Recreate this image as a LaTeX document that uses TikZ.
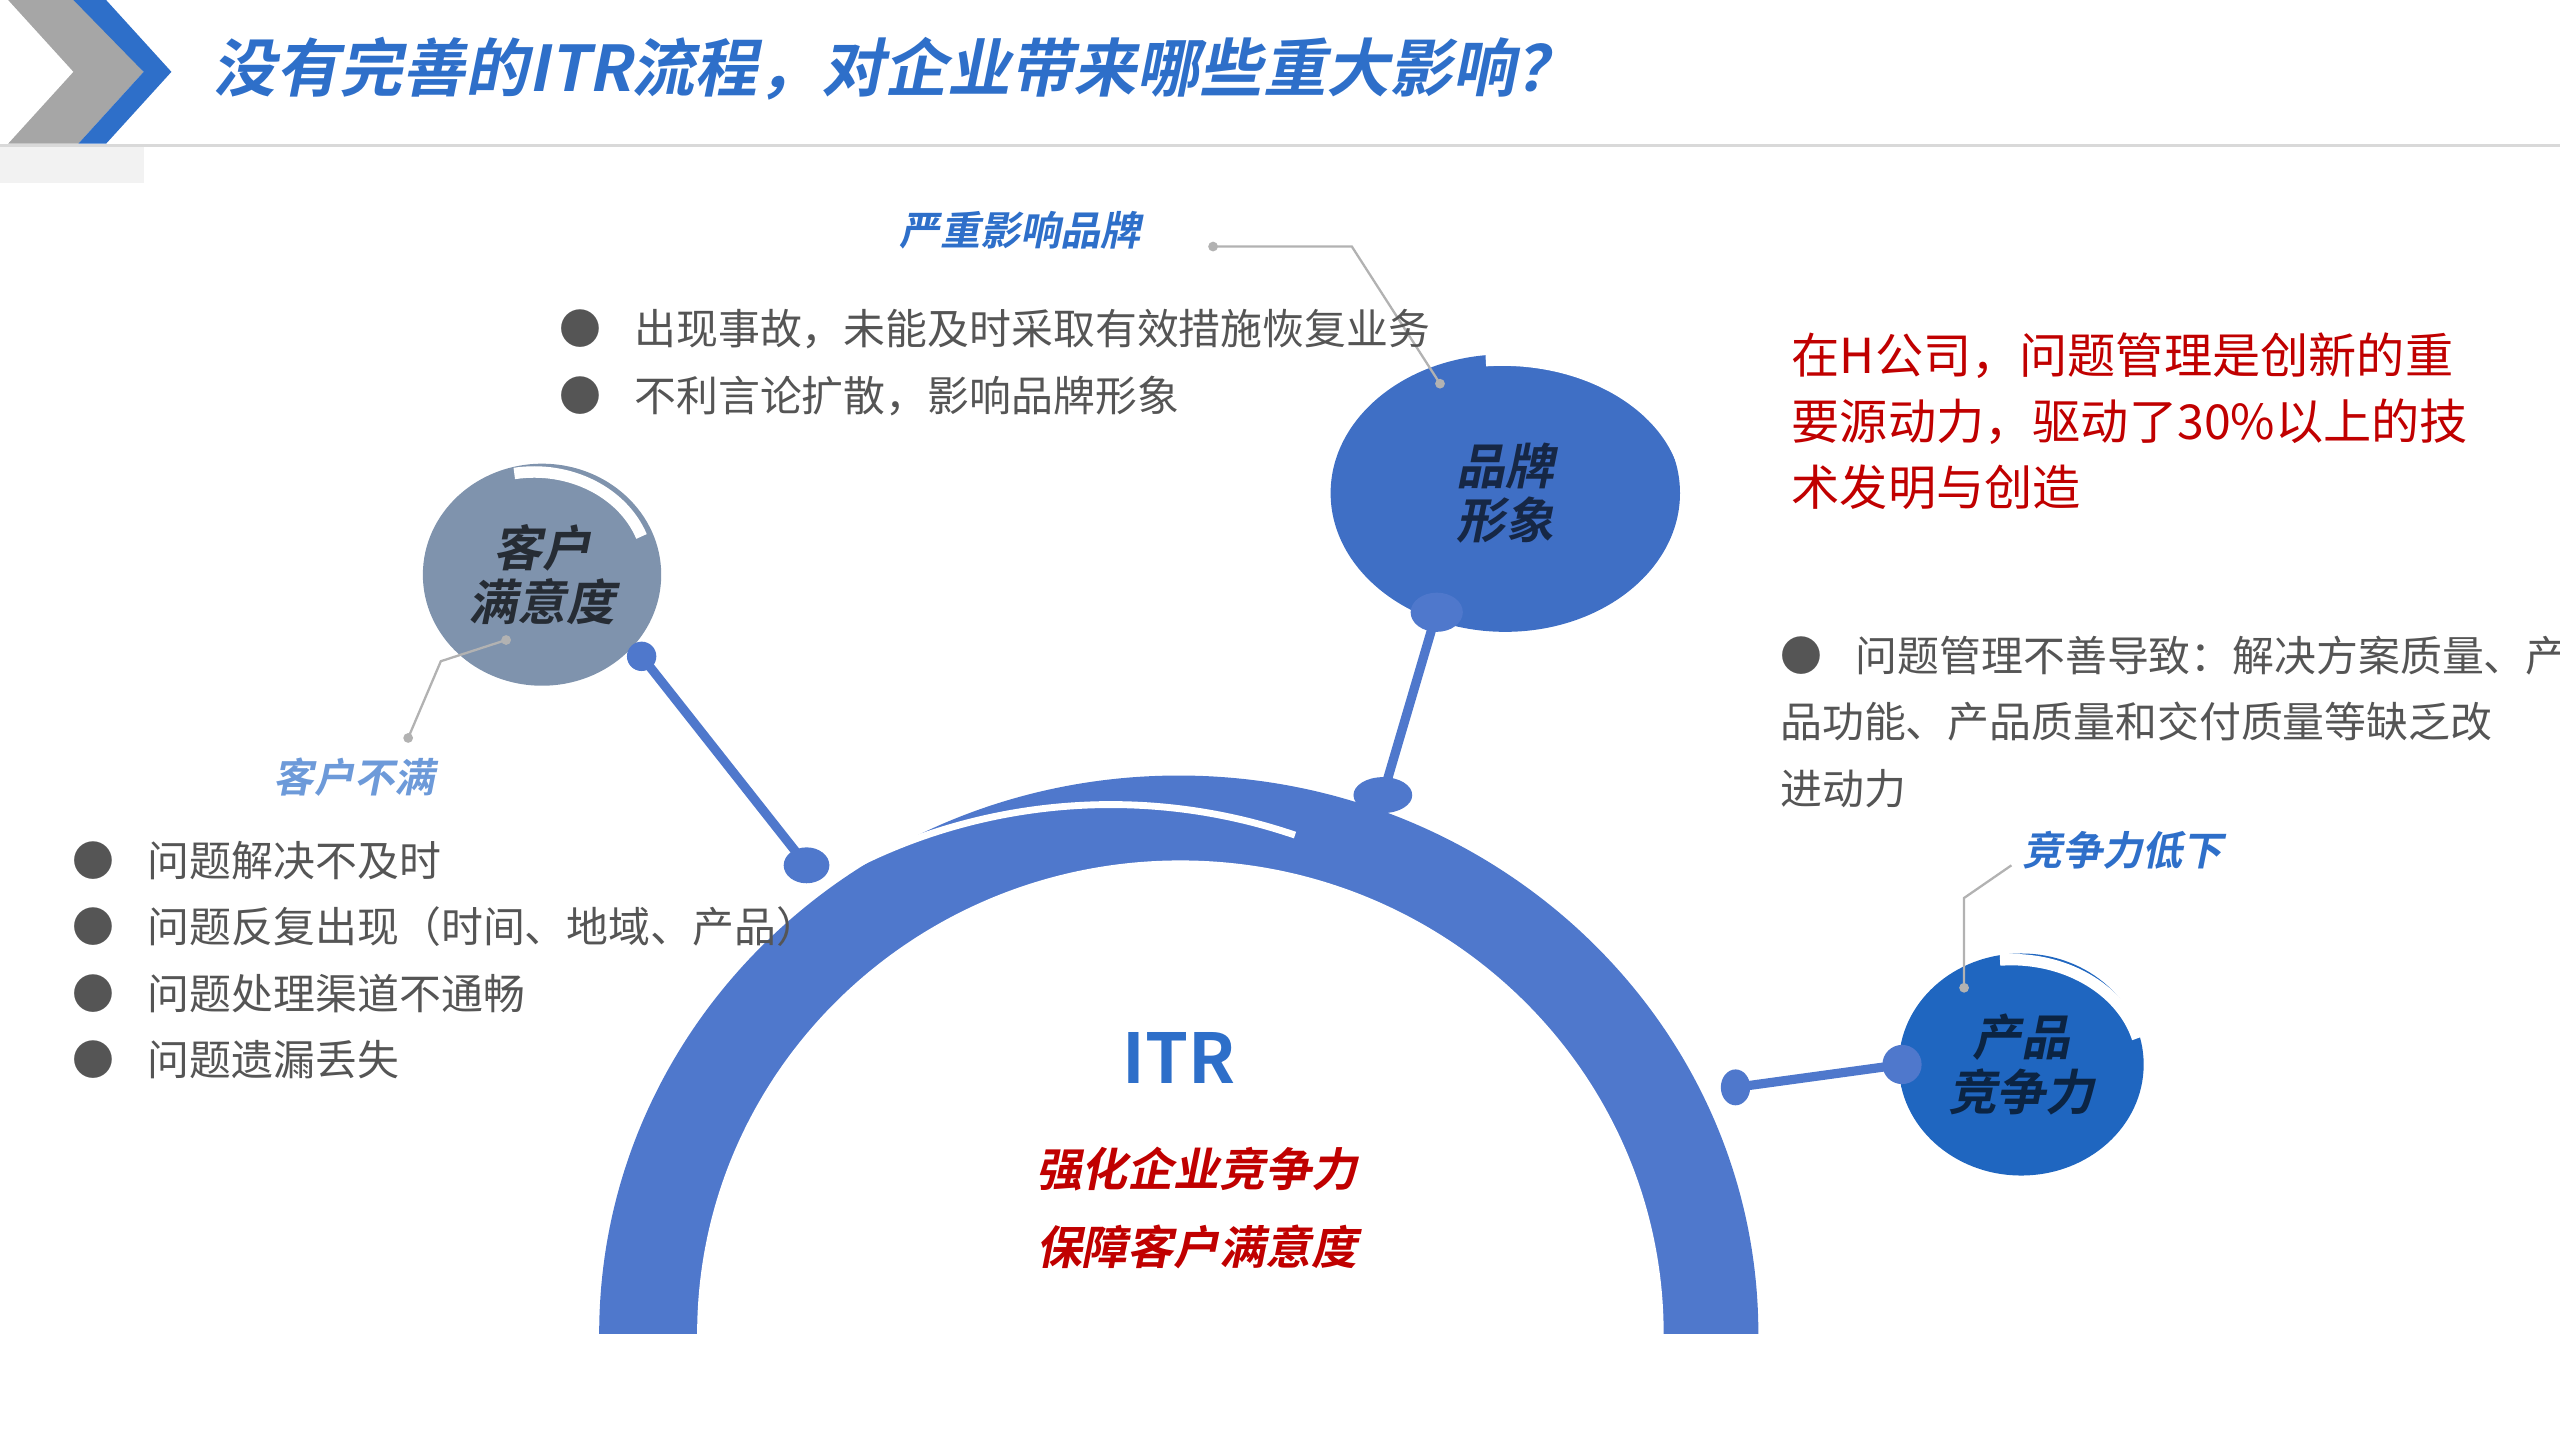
\documentclass[tikz,border=0pt]{standalone}
\usepackage{fontspec}
\setmainfont{Noto Sans CJK SC}
\newfontfamily\cjkb[FakeSlant=0.2]{Noto Sans CJK SC Bold}
\newfontfamily\cjkn{Noto Sans CJK SC Bold}
\definecolor{tblue}{HTML}{2E6FC9}
\definecolor{ringb}{HTML}{4F78CC}
\definecolor{grayb}{HTML}{7F93AD}
\definecolor{brandb}{HTML}{3F6FC5}
\definecolor{prodb}{HTML}{1F66C0}
\definecolor{txt}{HTML}{555555}
\definecolor{redt}{HTML}{C00000}
\begin{document}
\begin{tikzpicture}[x=0.1mm,y=-0.1mm,
  ttl/.style={font=\cjkb\fontsize{11}{13}\selectfont,text=tblue,anchor=west},
  lbl/.style={font=\cjkb\fontsize{7}{8}\selectfont,text=tblue,anchor=center},
  bub/.style={font=\cjkb\fontsize{8.5}{9.5}\selectfont,align=center},
  bul/.style={font=\fontsize{7.3}{11.6}\selectfont,text=txt,anchor=west,align=left},
  lead/.style={draw=gray!60,line width=0.4pt},
  conn/.style={draw=ringb,line width=1.6pt},
  dotc/.style={fill=ringb}]
\useasboundingbox (0,0) rectangle (1568,882);
% chevrons
\fill[gray!70] (5,0) -- (48,0) -- (88,44) -- (48,88) -- (5,88) -- (45,44) -- cycle;
\fill[tblue] (45,0) -- (65,0) -- (105,44) -- (65,88) -- (48,88) -- (88,44) -- cycle;
\fill[gray!10] (0,90) rectangle (88,112);
\node[ttl] (title) at (118,42) {没有完善的ITR流程，对企业带来哪些重大影响？};
\draw[gray!30,line width=0.5pt] (0,89) -- (1568,89);
% ring
\fill[ringb] (367,817) arc[start angle=180,end angle=360,x radius=355,y radius=342] -- cycle;
\fill[white] (427,817) arc[start angle=180,end angle=360,x radius=296,y radius=290] -- cycle;
\draw[white,line width=1.2pt] (410,625) arc[start angle=215,end angle=290,x radius=330,y radius=310];
% connectors
\coordinate (c1a) at (393,402); \coordinate (c1b) at (494,530);
\coordinate (c2a) at (880,375); \coordinate (c2b) at (847,487);
\coordinate (c3a) at (1165,652); \coordinate (c3b) at (1063,666);
\draw[conn] (c1a) -- (c1b); \draw[conn] (c2a) -- (c2b); \draw[conn] (c3a) -- (c3b);
\fill[dotc] (c1b) ellipse (14 and 11); \fill[dotc] (c2b) ellipse (18 and 11);
\fill[dotc] (c3b) ellipse (9 and 11);
% bubbles
\fill[grayb] (332,352) ellipse (73 and 68);
\draw[white,line width=2pt] (315,290) arc[start angle=-100,end angle=-20,x radius=70,y radius=60];
\node[bub,text=grayb!30!black] (b1) at (332,352) {客户\\满意度};
\fill[dotc] (c1a) circle (9);
\fill[brandb] (922,302) ellipse (107 and 85);
\draw[white,line width=2.5pt] (910,220) arc[start angle=-95,end angle=-5,x radius=115,y radius=85];
\node[bub,text=brandb!35!black] (b2) at (922,302) {品牌\\形象};
\fill[dotc] (c2a) ellipse (16 and 12);
\fill[prodb] (1238,652) ellipse (75 and 68);
\draw[white,line width=2pt] (1225,588) arc[start angle=-95,end angle=-15,x radius=80,y radius=65];
\node[bub,text=prodb!35!black] (b3) at (1238,652) {产品\\竞争力};
\fill[dotc] (c3a) circle (12);
% labels and leaders
\node[lbl] (l1) at (625,141) {严重影响品牌};
\coordinate (p1a) at (743,151); \coordinate (p1b) at (828,151); \coordinate (p1c) at (882,235);
\draw[lead] (p1a) -- (p1b) -- (p1c); \fill[gray!60] (p1a) circle (3); \fill[gray!60] (p1c) circle (3);
\node[lbl,text=tblue!70] (l2) at (217,476) {客户不满};
\coordinate (p2a) at (310,392); \coordinate (p2b) at (270,405); \coordinate (p2c) at (250,452);
\draw[lead] (p2a) -- (p2b) -- (p2c); \fill[gray!60] (p2a) circle (3); \fill[gray!60] (p2c) circle (3);
\node[lbl] (l3) at (1300,521) {竞争力低下};
\coordinate (p3a) at (1232,530); \coordinate (p3b) at (1203,550); \coordinate (p3c) at (1203,605);
\draw[lead] (p3a) -- (p3b) -- (p3c); \fill[gray!60] (p3c) circle (3);
% bullets
\node[bul] (t1) at (330,222) {●\hspace{0.8em}出现事故，未能及时采取有效措施恢复业务\\●\hspace{0.8em}不利言论扩散，影响品牌形象};
\node[bul] (t2) at (32,588) {●\hspace{0.8em}问题解决不及时\\●\hspace{0.8em}问题反复出现（时间、地域、产品）\\●\hspace{0.8em}问题处理渠道不通畅\\●\hspace{0.8em}问题遗漏丢失};
\node[bul] (t3) at (1078,442) {●\hspace{0.8em}问题管理不善导致：解决方案质量、产\\品功能、产品质量和交付质量等缺乏改\\进动力};
\node[font=\fontsize{8.4}{11.5}\selectfont,text=redt,anchor=west,align=left] (red) at (1085,258) {在H公司，问题管理是创新的重\\要源动力，驱动了30\%以上的技\\术发明与创造};
% center
\node[font=\cjkn\fontsize{12}{14}\selectfont,text=tblue] (itr) at (722,648) {ITR};
\node[font=\cjkb\fontsize{8}{13.5}\selectfont,text=redt,align=center] (sub) at (733,740) {强化企业竞争力\\保障客户满意度};
\end{tikzpicture}
\end{document}
